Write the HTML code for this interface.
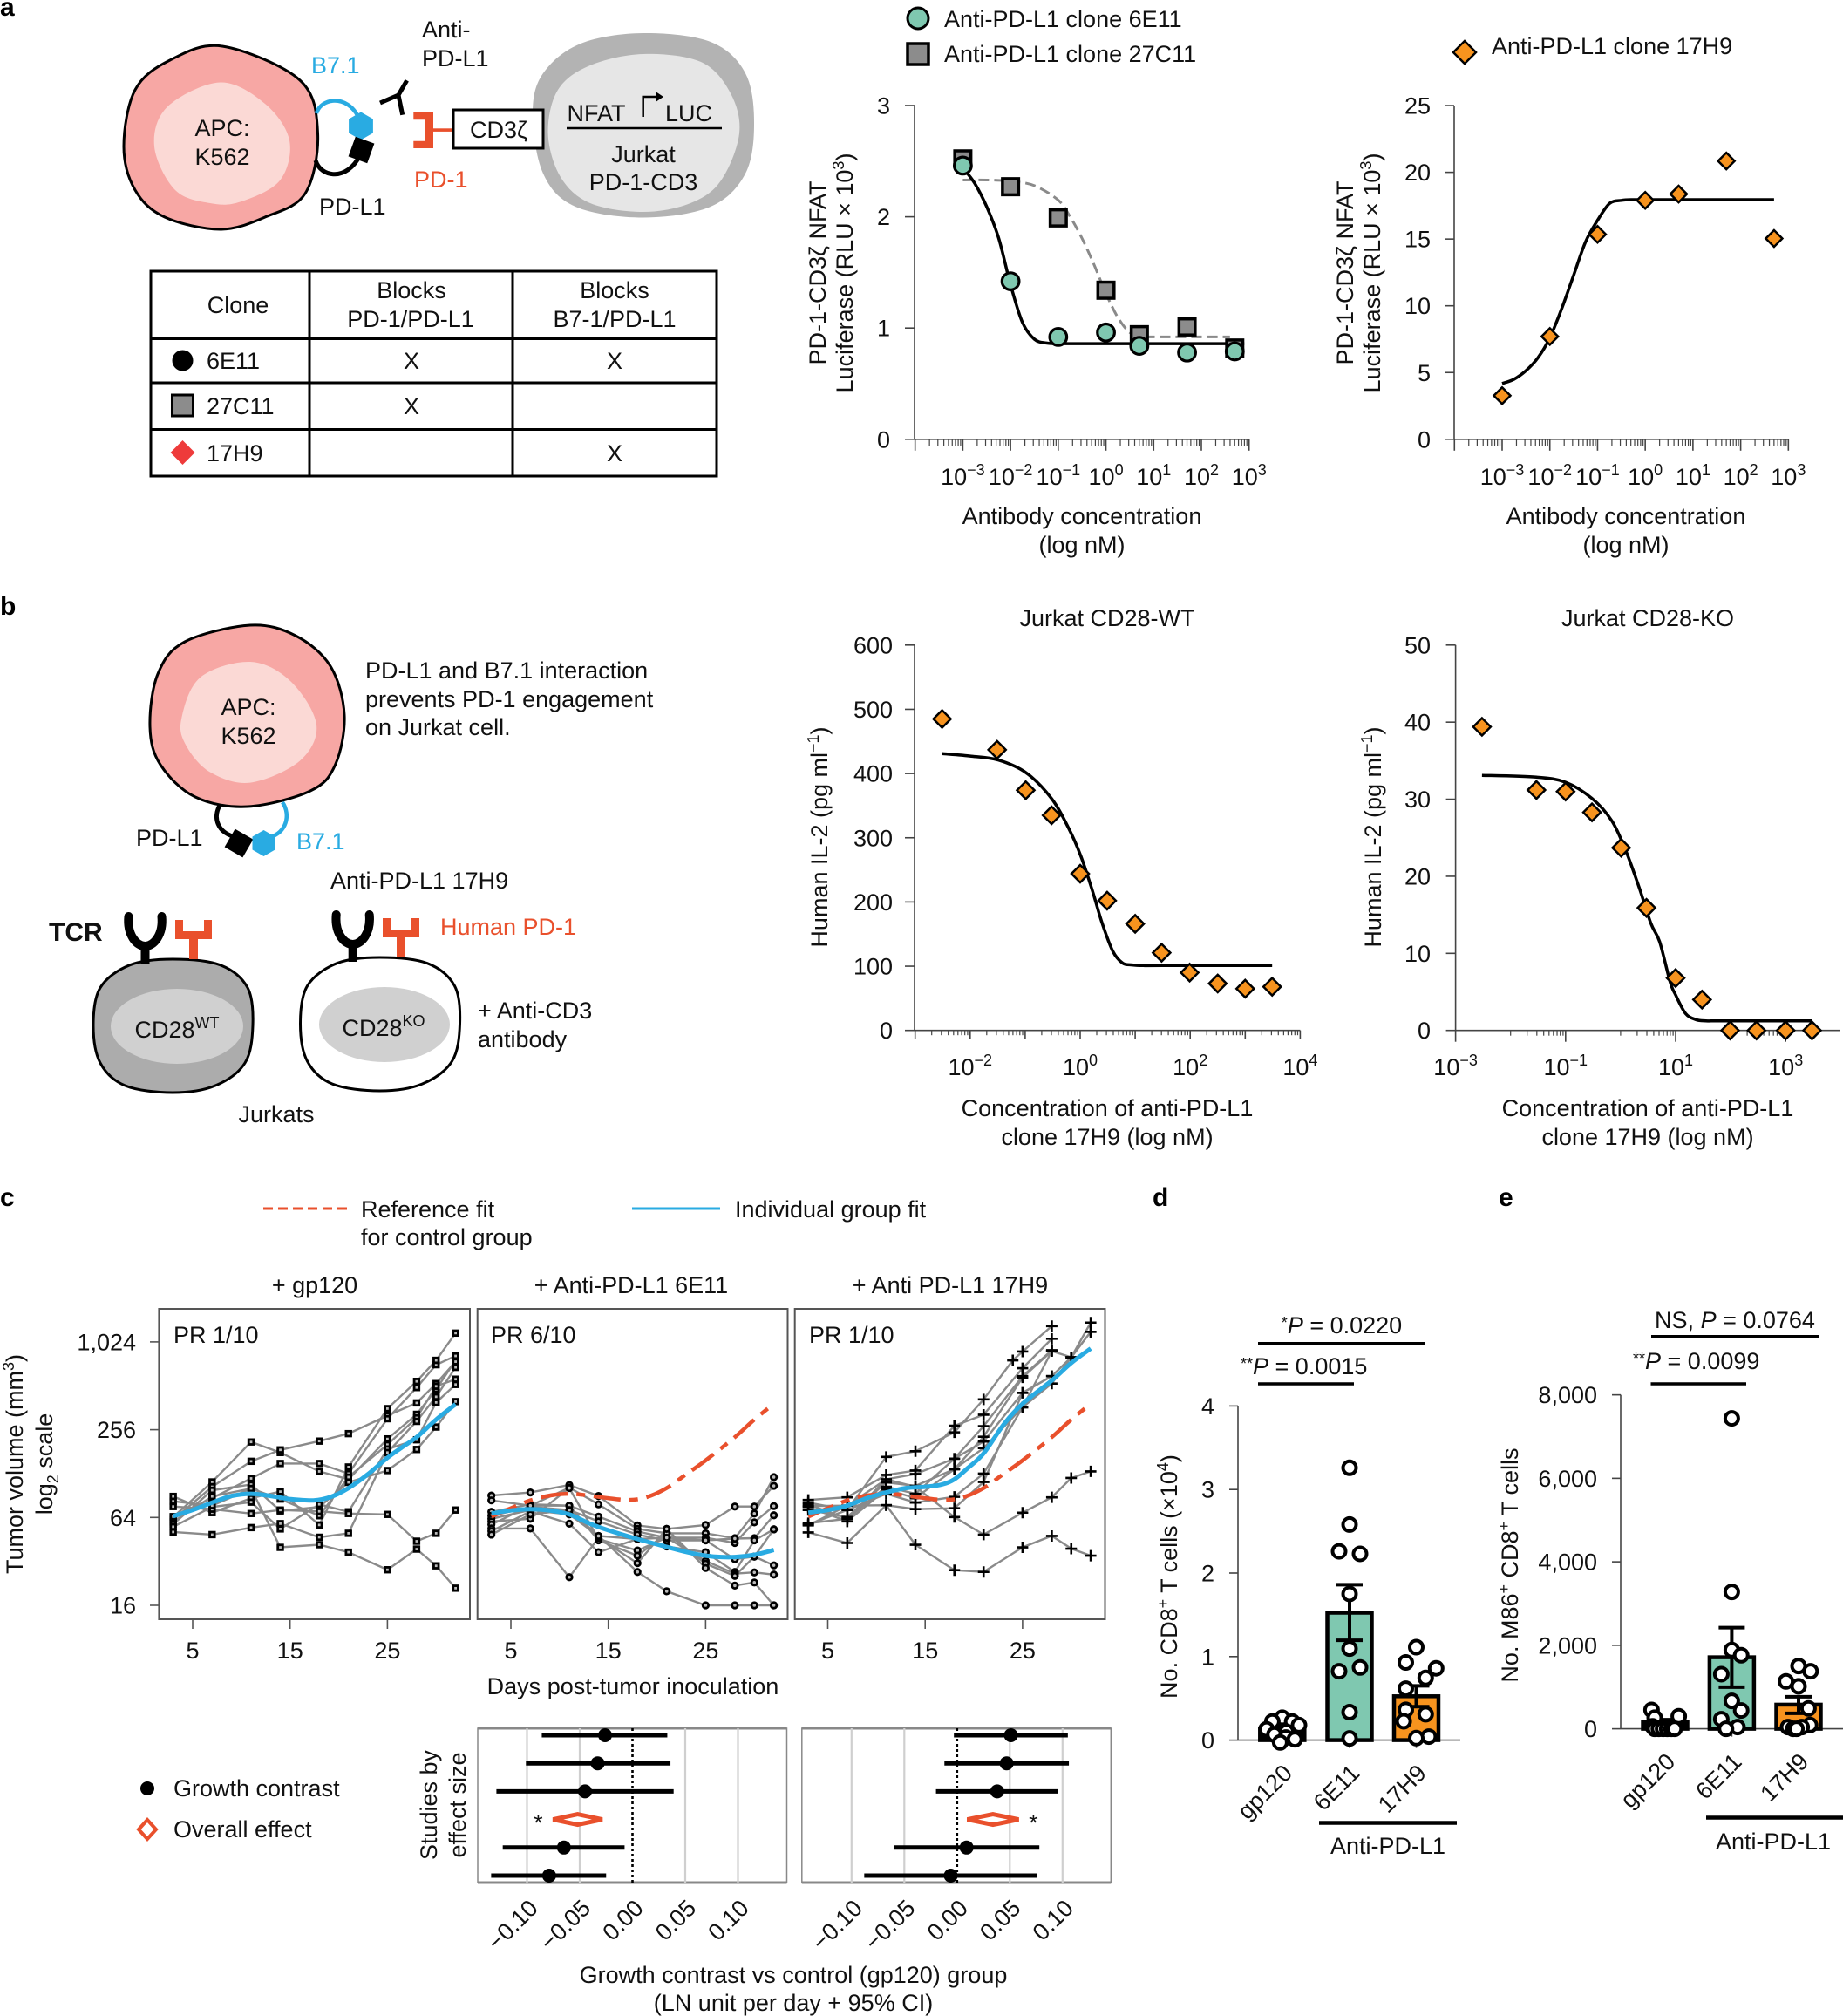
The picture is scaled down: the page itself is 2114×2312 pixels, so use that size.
<!DOCTYPE html>
<html lang="en">
<head>
<meta charset="utf-8">
<title>Anti-PD-L1 clone figure</title>
<style>
html,body{margin:0;padding:0;background:#fff;}
svg{display:block;}
text{font-family:"Liberation Sans",sans-serif;font-size:27px;fill:#111;}
.m{text-anchor:middle;}
.e{text-anchor:end;}
.red{fill:#e9502c;}
.blue{fill:#29abe2;}
.pl{font-weight:bold;font-size:30px;fill:#000;}
</style>
</head>
<body>
<svg id="fig" xmlns="http://www.w3.org/2000/svg" width="2114" height="2312" viewBox="0 0 2114 2312">
<rect width="2114" height="2312" fill="#fff"/>
<g id="shapes"></g>
<g id="charts"></g>

<text class="pl" x="0" y="18">a</text>
<text class="pl" x="0" y="705">b</text>
<text class="pl" x="0" y="1383">c</text>
<text class="pl" x="1322" y="1383">d</text>
<text class="pl" x="1719" y="1383">e</text>

<!-- Panel a schematic text -->
<text x="484" y="43">Anti-</text>
<text x="484" y="76">PD-L1</text>
<text class="blue" x="357" y="84">B7.1</text>
<text class="m" x="255" y="156">APC:</text>
<text class="m" x="255" y="189">K562</text>
<text x="366" y="246">PD-L1</text>
<text class="red" x="475" y="215">PD-1</text>
<text class="m" x="572" y="158">CD3ζ</text>
<text class="m" x="684" y="139">NFAT</text>
<text class="m" x="790" y="139">LUC</text>
<text class="m" x="738" y="186">Jurkat</text>
<text class="m" x="738" y="218">PD-1-CD3</text>

<!-- Table text -->
<text class="m" x="273" y="359">Clone</text>
<text class="m" x="472" y="342">Blocks</text>
<text class="m" x="471" y="375">PD-1/PD-L1</text>
<text class="m" x="705" y="342">Blocks</text>
<text class="m" x="705" y="375">B7-1/PD-L1</text>
<text x="237" y="423">6E11</text>
<text x="237" y="475">27C11</text>
<text x="237" y="529">17H9</text>
<text class="m" x="472" y="423">X</text>
<text class="m" x="705" y="423">X</text>
<text class="m" x="472" y="475">X</text>
<text class="m" x="705" y="529">X</text>

<!-- Panel a legends and titles -->
<text x="1083" y="31">Anti-PD-L1 clone 6E11</text>
<text x="1083" y="71">Anti-PD-L1 clone 27C11</text>
<text x="1711" y="62">Anti-PD-L1 clone 17H9</text>
<text class="m" transform="translate(947 313) rotate(-90)">PD-1-CD3ζ NFAT</text>
<text class="m" transform="translate(978 313) rotate(-90)">Luciferase (RLU × 10<tspan font-size="18" dy="-10">3</tspan><tspan dy="10">)</tspan></text>
<text class="m" transform="translate(1552 313) rotate(-90)">PD-1-CD3ζ NFAT</text>
<text class="m" transform="translate(1583 313) rotate(-90)">Luciferase (RLU × 10<tspan font-size="18" dy="-10">3</tspan><tspan dy="10">)</tspan></text>
<text class="m" x="1241" y="601">Antibody concentration</text>
<text class="m" x="1241" y="634">(log nM)</text>
<text class="m" x="1865" y="601">Antibody concentration</text>
<text class="m" x="1865" y="634">(log nM)</text>

<!-- Panel b schematic text -->
<text class="m" x="285" y="820">APC:</text>
<text class="m" x="285" y="853">K562</text>
<text x="419" y="778">PD-L1 and B7.1 interaction</text>
<text x="419" y="811">prevents PD-1 engagement</text>
<text x="419" y="843">on Jurkat cell.</text>
<text x="156" y="970">PD-L1</text>
<text class="blue" x="340" y="974">B7.1</text>
<text x="379" y="1019">Anti-PD-L1 17H9</text>
<text x="56" y="1079" font-weight="bold" style="font-size:30px">TCR</text>
<text class="red" x="505" y="1072">Human PD-1</text>
<text class="m" x="203" y="1190">CD28<tspan font-size="18" dy="-11">WT</tspan></text>
<text class="m" x="440" y="1188">CD28<tspan font-size="18" dy="-11">KO</tspan></text>
<text x="548" y="1168">+ Anti-CD3</text>
<text x="548" y="1201">antibody</text>
<text class="m" x="317" y="1287">Jurkats</text>

<!-- Panel b chart titles -->
<text class="m" x="1270" y="718">Jurkat CD28-WT</text>
<text class="m" x="1890" y="718">Jurkat CD28-KO</text>
<text class="m" transform="translate(949 960) rotate(-90)">Human IL-2 (pg ml<tspan font-size="18" dy="-10">−1</tspan><tspan dy="10">)</tspan></text>
<text class="m" transform="translate(1584 960) rotate(-90)">Human IL-2 (pg ml<tspan font-size="18" dy="-10">−1</tspan><tspan dy="10">)</tspan></text>
<text class="m" x="1270" y="1280">Concentration of anti-PD-L1</text>
<text class="m" x="1270" y="1313">clone 17H9 (log nM)</text>
<text class="m" x="1890" y="1280">Concentration of anti-PD-L1</text>
<text class="m" x="1890" y="1313">clone 17H9 (log nM)</text>

<!-- Panel c text -->
<text x="414" y="1396">Reference fit</text>
<text x="414" y="1428">for control group</text>
<text x="843" y="1396">Individual group fit</text>
<text class="m" x="361" y="1483">+ gp120</text>
<text class="m" x="724" y="1483">+ Anti-PD-L1 6E11</text>
<text class="m" x="1090" y="1483">+ Anti PD-L1 17H9</text>
<text x="199" y="1540">PR 1/10</text>
<text x="563" y="1540">PR 6/10</text>
<text x="928" y="1540">PR 1/10</text>
<text class="m" x="726" y="1943">Days post-tumor inoculation</text>
<text class="m" transform="translate(26 1679) rotate(-90)">Tumor volume (mm<tspan font-size="18" dy="-10">3</tspan><tspan dy="10">)</tspan></text>
<text class="m" transform="translate(60 1679) rotate(-90)">log<tspan font-size="18" dy="7">2</tspan><tspan dy="-7"> scale</tspan></text>

<!-- Forest text -->
<text x="199" y="2060">Growth contrast</text>
<text x="199" y="2107">Overall effect</text>
<text class="m" transform="translate(501 2070) rotate(-90)">Studies by</text>
<text class="m" transform="translate(534 2070) rotate(-90)">effect size</text>
<text class="m" x="910" y="2274">Growth contrast vs control (gp120) group</text>
<text class="m" x="910" y="2306">(LN unit per day + 95% CI)</text>

<!-- Panels d and e text -->
<text class="m" x="1539" y="1529"><tspan font-size="18" dy="-6">*</tspan><tspan font-style="italic" dy="6">P</tspan> = 0.0220</text>
<text x="1423" y="1576"><tspan font-size="18" dy="-6">**</tspan><tspan font-style="italic" dy="6">P</tspan> = 0.0015</text>
<text class="m" x="1990" y="1523">NS, <tspan font-style="italic">P</tspan> = 0.0764</text>
<text x="1873" y="1570"><tspan font-size="18" dy="-6">**</tspan><tspan font-style="italic" dy="6">P</tspan> = 0.0099</text>
<text class="m" transform="translate(1350 1808) rotate(-90)">No. CD8<tspan font-size="18" dy="-10">+</tspan><tspan dy="10"> T cells (×10</tspan><tspan font-size="18" dy="-10">4</tspan><tspan dy="10">)</tspan></text>
<text class="m" transform="translate(1741 1795) rotate(-90)">No. M86<tspan font-size="18" dy="-10">+</tspan><tspan dy="10"> CD8</tspan><tspan font-size="18" dy="-10">+</tspan><tspan dy="10"> T cells</tspan></text>
<text class="m" x="1592" y="2126">Anti-PD-L1</text>
<text class="m" x="2034" y="2121">Anti-PD-L1</text>
</svg>

<script>
/* ---------- Panel a data: log10 antibody nM, RLU x 10^3 ---------- */
const aConcLog = [-3, -2, -1, 0, 0.7, 1.7, 2.7];
const a1Values6E11 = [2.46, 1.42, 0.92, 0.96, 0.84, 0.78, 0.79];
const a1Values27C11 = [2.52, 2.27, 1.99, 1.34, 0.94, 1.01, 0.82];
const a1Fit6E11Log = [-3, -2.75, -2.5, -2.25, -2, -1.75, -1.5, -1.25, -1, -0.75, -0.5, 0, 1, 2, 2.9];
const a1Fit6E11 = [2.44, 2.30, 2.09, 1.81, 1.39, 1.05, 0.90, 0.865, 0.86, 0.86, 0.86, 0.86, 0.86, 0.86, 0.86];
const a1Fit27C11Log = [-3, -2.5, -2, -1.5, -1, -0.75, -0.5, -0.25, 0, 0.25, 0.5, 0.75, 1, 1.25, 1.5, 2.6];
const a1Fit27C11 = [2.33, 2.33, 2.32, 2.28, 2.15, 2.0, 1.805, 1.57, 1.31, 1.095, 0.96, 0.924, 0.92, 0.92, 0.92, 0.92];
const a2Values17H9 = [3.27, 7.7, 15.35, 17.9, 18.37, 20.85, 15.04];
const a2FitLog = [-3, -2.75, -2.5, -2.25, -2, -1.75, -1.5, -1.25, -1, -0.75, -0.5, -0.25, 0, 1, 2.7];
const a2Fit = [4.18, 4.5, 5.14, 6.1, 7.6, 9.8, 12.3, 14.8, 16.4, 17.66, 17.9, 17.95, 17.95, 17.95, 17.95];
const a1YTicks = [0, 1, 2, 3];
const a2YTicks = [0, 5, 10, 15, 20, 25];
const aXTickExps = [-3, -2, -1, 0, 1, 2, 3];

/* ---------- Panel b data: log10 nM, pg/ml ---------- */
const b1ConcLog = [-2.51, -1.51, -0.99, -0.52, 0, 0.49, 1.0, 1.48, 1.99, 2.5, 3, 3.49];
const b1Values = [485, 437, 374, 335, 244, 202, 166, 121, 90, 73, 65, 68];
const b1FitLog = [-2.51, -1.98, -1.49, -0.98, -0.52, -0.21, 0.01, 0.22, 0.40, 0.59, 0.77, 0.95, 1.15, 1.5, 3.49];
const b1Fit = [431, 427, 421, 401, 361, 315, 272, 218, 167, 124, 105, 102, 101, 101, 101];
const b2ConcLog = [-2.52, -1.53, -1.0, -0.52, 0.01, 0.47, 1.0, 1.48, 1.99, 2.47, 3, 3.48];
const b2Values = [39.4, 31.2, 31, 28.3, 23.7, 15.9, 6.8, 4, 0, 0, 0, 0];
const b2FitLog = [-2.52, -1.53, -1.0, -0.52, -0.16, 0.09, 0.33, 0.55, 0.71, 0.9, 1.0, 1.18, 1.37, 1.55, 1.9, 3.48];
const b2Fit = [33.1, 32.86, 32.2, 30.1, 27.2, 23.4, 18.7, 13.9, 11.5, 6.3, 4.6, 2.2, 1.4, 1.24, 1.24, 1.24];
const b1YTicks = [0, 100, 200, 300, 400, 500, 600];
const b2YTicks = [0, 10, 20, 30, 40, 50];
const b1XTickExps = [-2, 0, 2, 4];
const b2XTickExps = [-3, -1, 1, 3];

/* ---------- Panel c data: log2 tumor volume by day ---------- */
const cDays = [3, 7, 11, 14, 18, 21, 25, 28, 30, 32];
const gp120Tumors = [
  [6.01, 6.81, 7.72, 7.48, 7.05, 6.87, 7.79, 8.35, 8.92, 9.58],
  [5.95, 6.70, 7.28, 7.54, 7.74, 7.91, 8.32, 8.61, 9.05, 9.55],
  [6.02, 6.44, 6.89, 7.23, 7.23, 7.00, 8.25, 8.96, 9.48, 9.68],
  [6.48, 6.11, 6.44, 6.59, 5.83, 7.15, 8.48, 9.10, 9.58, 10.20],
  [5.90, 6.48, 6.66, 6.42, 6.04, 6.92, 7.66, 8.27, 8.99, 9.15],
  [5.85, 6.62, 6.75, 6.15, 6.24, 6.80, 7.07, 7.55, 8.06, 8.64],
  [5.79, 6.24, 6.35, 5.74, 6.30, 6.13, 7.56, 7.77, 8.62, 9.03],
  [5.67, 5.61, 5.77, 5.86, 5.55, 5.64, 7.48, 8.19, 8.75, 9.42],
  [6.25, 6.19, 6.09, 6.17, 6.14, 6.09, 6.07, 5.46, 5.64, 6.17],
  [6.37, 6.27, 6.66, 5.32, 5.38, 5.21, 4.81, 5.28, 4.90, 4.39]
];
const clone6E11Tumors = [
  [6.50, 6.57, 6.74, 6.49, 5.82, 5.74, 5.83, 6.25, 6.25, 6.72],
  [6.39, 6.27, 6.68, 6.30, 5.74, 5.64, 5.64, 5.53, 6.09, 6.92],
  [6.13, 6.30, 6.27, 6.02, 5.68, 5.54, 5.54, 5.42, 5.89, 6.26],
  [6.04, 6.24, 6.17, 5.91, 5.61, 5.48, 5.48, 5.52, 5.53, 6.05],
  [5.97, 6.17, 6.07, 5.58, 5.51, 5.34, 5.21, 4.76, 5.48, 5.73],
  [5.91, 5.97, 6.67, 5.51, 5.25, 5.54, 5.01, 4.72, 4.75, 4.70],
  [5.84, 6.27, 6.27, 5.48, 5.13, 5.64, 4.95, 4.67, 5.11, 4.91],
  [5.75, 5.75, 4.64, 5.54, 4.96, 5.74, 4.85, 4.45, 4.52, 4.00],
  [5.69, 6.14, 5.86, 5.21, 5.51, 5.54, 5.48, 5.05, 5.11, 5.73],
  [5.61, 6.07, 6.17, 5.58, 4.76, 4.32, 4.00, 4.00, 4.00, 4.00]
];
const c3Days = [3, 7, 11, 14, 18, 21, 24, 25, 28, 30, 32];
const clone17H9Tumors = [
  [6.34, 6.17, 7.38, 7.51, 7.94, 8.69, 9.58, 9.78, 10.36, null, null],
  [6.40, 6.46, 6.97, 7.07, 8.09, 8.34, null, 9.40, 10.07, null, null],
  [6.26, 6.27, 6.87, 6.99, 7.34, 8.08, null, 9.22, 9.81, null, null],
  [6.17, 6.01, 6.80, 6.72, 7.10, 7.84, null, 9.19, 9.79, 9.65, 10.23],
  [5.87, 5.97, 6.70, 6.54, 7.34, 7.73, null, 8.84, 9.22, 9.65, 10.44],
  [6.24, 5.91, 6.64, 6.44, 7.10, 7.58, null, 8.51, 9.05, 9.65, 10.23],
  [5.84, 6.17, 6.54, 6.34, 6.47, 7.00, null, 8.51, 9.79, null, null],
  [5.82, 6.27, 6.28, 6.19, 6.21, 6.81, null, 8.84, 9.22, null, null],
  [6.30, 5.97, 6.87, 6.70, 6.01, 5.61, null, 6.11, 6.46, 6.90, 7.05],
  [5.66, 5.42, 6.28, 5.38, 4.80, 4.76, null, 5.32, 5.58, 5.29, 5.13]
];
const c1FitDays = [3, 5, 7, 9, 11, 13, 15, 17.4, 19.2, 21, 22.9, 25, 26.5, 28, 30, 32];
const c1Fit = [6.03, 6.17, 6.34, 6.49, 6.54, 6.49, 6.42, 6.39, 6.47, 6.67, 6.97, 7.36, 7.60, 7.83, 8.23, 8.58];
const c2FitDays = [3, 5, 7, 9, 11, 13, 15, 18, 21, 23.1, 25, 26.6, 28, 30, 32];
const c2Fit = [6.09, 6.16, 6.19, 6.16, 6.07, 5.87, 5.71, 5.51, 5.33, 5.21, 5.13, 5.10, 5.10, 5.15, 5.26];
const c3FitDays = [3, 5, 7, 9, 11, 13, 15, 16.7, 18, 19.4, 21, 23.1, 25, 28, 30, 32];
const c3Fit = [6.11, 6.17, 6.27, 6.44, 6.57, 6.67, 6.70, 6.75, 6.87, 7.13, 7.46, 8.13, 8.59, 9.12, 9.52, 9.85];
const refFitDays = [3, 5, 7, 9, 11, 13, 15, 17.1, 18.9, 21, 23.1, 25, 28, 30, 32];
const refFit = [6.02, 6.21, 6.39, 6.50, 6.54, 6.50, 6.44, 6.40, 6.46, 6.67, 7.0, 7.30, 7.83, 8.23, 8.59];
const cYTicks = [4, 6, 8, 10];
const cYLabels = ['16', '64', '256', '1,024'];
const cXTicks = [5, 15, 25];

/* ---------- Forest plot data ---------- */
const forestTicks = [-0.10, -0.05, 0, 0.05, 0.10];
const forestTickLabels = ['−0.10', '−0.05', '0.00', '0.05', '0.10'];
const forestRowOrder = [0, 1, 2, 4, 5];
const forest6E11Mean = [-0.026, -0.033, -0.045, -0.065, -0.079];
const forest6E11Low = [-0.086, -0.101, -0.129, -0.123, -0.134];
const forest6E11High = [0.033, 0.036, 0.039, -0.0075, -0.025];
const forest6E11Overall = [-0.077, -0.052, -0.027];
const forest17H9Mean = [0.051, 0.047, 0.038, 0.009, -0.006];
const forest17H9Low = [-0.003, -0.012, -0.020, -0.060, -0.088];
const forest17H9High = [0.105, 0.106, 0.096, 0.078, 0.076];
const forest17H9Overall = [0.008, 0.034, 0.060];

/* ---------- Panels d, e data (jitter = dimensionless swarm column) ---------- */
const barCategories = ['gp120', '6E11', '17H9'];
const dMeans = [0.14, 1.525, 0.525];
const dErrLow = [0.11, 1.195, 0.40];
const dErrHigh = [0.17, 1.86, 0.65];
const dPointsGp120 = [0.268, 0.223, 0.223, 0.18, 0.13, 0.10, 0.066, 0.031, 0.01, -0.028];
const dJitterGp120 = [0, -0.95, 0.95, 1.6, -1.5, 0.4, -0.75, 0.35, 1.2, -0.2];
const dPoints6E11 = [3.26, 2.58, 2.26, 2.23, 1.75, 1.096, 0.87, 0.825, 0.335, 0.02];
const dJitter6E11 = [0, 0, -1, 1, 0, 0, 1, -1, 0, 0];
const dPoints17H9 = [1.113, 0.93, 0.86, 0.745, 0.616, 0.362, 0.31, 0.226, 0.042, 0.024];
const dJitter17H9 = [0, -1, 1.9, 0.9, -1, -1, 0.9, -1.2, 1.2, 0];
const dYTicks = [0, 1, 2, 3, 4];
const eMeans = [160, 1713, 578];
const eErrLow = [100, 996, 369];
const eErrHigh = [220, 2423, 766];
const ePointsGp120 = [452, 300, 265, 60, 0, 0, 0, 0, 0, 0];
const eJitterGp120 = [-1.3, 1.3, -1, -1.2, -1, -0.6, -0.2, 0.2, 0.6, 0.9];
const ePoints6E11 = [7437, 3279, 1887, 1762, 1309, 668, 439, 230, 42, 0];
const eJitter6E11 = [0, 0, 0, 0.9, -1, 0, 0.9, -1, 0.55, -0.55];
const ePoints17H9 = [1504, 1379, 1135, 1017, 487, 90, 40, 40, 0, 0];
const eJitter17H9 = [0, 1.15, -1.2, 0, 0.95, 1.1, -1, 0.3, -0.5, -0.2];
const eYTicks = [0, 2000, 4000, 6000, 8000];
const eYLabels = ['0', '2,000', '4,000', '6,000', '8,000'];

/* ---------- Helpers ---------- */
const svgNS = document.getElementById('fig').namespaceURI;
const shapes = document.getElementById('shapes');
const charts = document.getElementById('charts');
const TEAL = '#7fc8b0', GRAY = '#8c8c8c', ORANGE = '#f7931e', RED = '#e9502c', BLUE = '#29abe2';

function mk(tag, parent, attrs, name) {
  const e = document.createElementNS(svgNS, tag);
  for (const k in attrs) e.setAttribute(k, attrs[k]);
  
  
  parent.appendChild(e);
  return e;
}
function smooth(pts) {
  let d = 'M' + pts[0][0].toFixed(1) + ' ' + pts[0][1].toFixed(1);
  for (let i = 0; i < pts.length - 1; i++) {
    const p0 = pts[Math.max(0, i - 1)], p1 = pts[i], p2 = pts[i + 1], p3 = pts[Math.min(pts.length - 1, i + 2)];
    const c1x = p1[0] + (p2[0] - p0[0]) / 6, c1y = p1[1] + (p2[1] - p0[1]) / 6;
    const c2x = p2[0] - (p3[0] - p1[0]) / 6, c2y = p2[1] - (p3[1] - p1[1]) / 6;
    d += 'C' + c1x.toFixed(1) + ' ' + c1y.toFixed(1) + ' ' + c2x.toFixed(1) + ' ' + c2y.toFixed(1) + ' ' + p2[0].toFixed(1) + ' ' + p2[1].toFixed(1);
  }
  return d;
}
function blobPath(pts, dx, dy) {
  const n = pts.length, P = i => [pts[(i + n) % n][0] + (dx || 0), pts[(i + n) % n][1] + (dy || 0)];
  let d = 'M' + P(0).join(' ');
  for (let i = 0; i < n; i++) {
    const p0 = P(i - 1), p1 = P(i), p2 = P(i + 1), p3 = P(i + 2);
    d += 'C' + (p1[0] + (p2[0] - p0[0]) / 6).toFixed(1) + ' ' + (p1[1] + (p2[1] - p0[1]) / 6).toFixed(1) + ' ' +
      (p2[0] - (p3[0] - p1[0]) / 6).toFixed(1) + ' ' + (p2[1] - (p3[1] - p1[1]) / 6).toFixed(1) + ' ' + p2[0] + ' ' + p2[1];
  }
  return d + 'Z';
}
function hexPoints(cx, cy, r) {
  const out = [];
  for (let i = 0; i < 6; i++) {
    const a = Math.PI / 6 + i * Math.PI / 3;
    out.push((cx + r * Math.cos(a)).toFixed(1) + ',' + (cy + r * Math.sin(a)).toFixed(1));
  }
  return out.join(' ');
}
function diamond(parent, x, y, r, fill, sw, name, stroke, ry) {
  const h = ry || r;
  return mk('polygon', parent, {
    points: x + ',' + (y - h) + ' ' + (x + r) + ',' + y + ' ' + x + ',' + (y + h) + ' ' + (x - r) + ',' + y,
    fill: fill, stroke: stroke || '#000', 'stroke-width': sw, 'stroke-linejoin': 'miter'
  }, name);
}
function square(parent, x, y, s, fill, sw, name) {
  return mk('rect', parent, { x: x - s / 2, y: y - s / 2, width: s, height: s, fill: fill, stroke: '#000', 'stroke-width': sw }, name);
}
function circle(parent, x, y, r, fill, sw, name) {
  return mk('circle', parent, { cx: x, cy: y, r: r, fill: fill, stroke: '#000', 'stroke-width': sw }, name);
}
function line(parent, x1, y1, x2, y2, stroke, sw, name, extra) {
  const a = { x1: x1, y1: y1, x2: x2, y2: y2, stroke: stroke, 'stroke-width': sw };
  if (extra) for (const k in extra) a[k] = extra[k];
  return mk('line', parent, a, name);
}
function label(parent, x, y, str, anchor, name, transform) {
  const a = { x: x, y: y, 'text-anchor': anchor };
  if (transform) a.transform = transform;
  const e = mk('text', parent, a, name);
  e.textContent = str;
  return e;
}
function powerLabel(parent, x, y, exp, name) {
  const e = mk('text', parent, { x: x, y: y, 'text-anchor': 'middle' }, name);
  e.appendChild(document.createTextNode('10'));
  const s = document.createElementNS(svgNS, 'tspan');
  s.setAttribute('font-size', '18');
  s.setAttribute('dy', '-11');
  s.textContent = String(exp).replace('-', '−');
  e.appendChild(s);
}
const AXIS = '#444';
function yAxis(g, x, yFn, ticks, labels, labelX, len) {
  line(g, x, yFn(ticks[ticks.length - 1]), x, yFn(ticks[0]), AXIS, 1.6, 'y-axis-line');
  ticks.forEach((v, i) => {
    line(g, x - len, yFn(v), x, yFn(v), AXIS, 1.6, 'y-tick');
    label(g, labelX, yFn(v) + 9.5, labels ? labels[i] : String(v), 'end', 'y-tick-label');
  });
}
function logXAxis(g, xFn, y0, lo, hi, majorsExp, minorLogs, majLen, minLen, labelExps, labelY, endX) {
  line(g, xFn(lo), y0, endX || xFn(hi), y0, AXIS, 1.6, 'x-axis-line');
  majorsExp.forEach(m => line(g, xFn(m), y0, xFn(m), y0 + majLen, AXIS, 1.6, 'x-major-tick'));
  minorLogs.forEach(m => line(g, xFn(m), y0, xFn(m), y0 + minLen, AXIS, 1.2, 'x-minor-tick'));
  labelExps.forEach(e => powerLabel(g, xFn(e), labelY, e, 'x-tick-label'));
}
function decadeMinors(lo, hi) {
  const out = [];
  for (let d = lo; d < hi; d++) for (let k = 2; k < 10; k++) out.push(d + Math.log10(k));
  return out;
}
function fitCurve(g, xFn, yFn, logs, vals, stroke, sw, name, dash) {
  const a = { d: smooth(logs.map((l, i) => [xFn(l), yFn(vals[i])])), fill: 'none', stroke: stroke, 'stroke-width': sw };
  if (dash) a['stroke-dasharray'] = dash;
  return mk('path', g, a, name);
}

/* ---------- Schematic shapes ---------- */
(function () {
  const s = shapes;
  const apcOuterA = [[255,53],[344,92],[364.5,153],[350,222],[304,249],[252.6,263],[189,249],[155,218],[142,168],[155,103],[195,69]];
  const apcInnerA = [[252.6,94.5],[304,119],[332,161],[321,207],[275.5,231.5],[241,233],[201,218],[177,168],[192,122.5]];
  mk('path', s, { d: blobPath(apcOuterA), fill: '#f7a7a4', stroke: '#000', 'stroke-width': 3 }, 'apc-cell-a');
  mk('path', s, { d: blobPath(apcInnerA), fill: '#fbd9d5' }, 'apc-nucleus-a');
  mk('path', s, { d: 'M363 130C368 112 398 108 411 134', fill: 'none', stroke: BLUE, 'stroke-width': 4.5 }, 'b7-1-stalk');
  mk('path', s, { d: 'M362 184C368 204 398 208 413 178', fill: 'none', stroke: '#000', 'stroke-width': 5 }, 'pd-l1-stalk');
  mk('polygon', s, { points: hexPoints(414, 144.5, 16), fill: BLUE }, 'b7-1-hexagon');
  mk('rect', s, { x: 403, y: 160, width: 23, height: 24, fill: '#000', transform: 'rotate(20 414.5 172)' }, 'pd-l1-square');
  mk('path', s, { d: 'M466.7 92.3L457 109L436 118M457 109L461.7 131.7', fill: 'none', stroke: '#000', 'stroke-width': 5 }, 'anti-pd-l1-antibody');
  mk('path', s, { d: 'M474.3 129H497V170H474.3V161.7H487.3V137.3H474.3Z', fill: RED }, 'pd-1-receptor');
  mk('rect', s, { x: 497, y: 147.3, width: 23, height: 3.6, fill: RED }, 'pd-1-stem');
  const jOuter = [[737.7,38],[815,48],[855,84],[865,141.6],[855,199],[815,237],[737.7,249.5],[660,237],[623,199],[611,130],[623,84],[666,50]];
  const jInner = [[737.7,62],[804,71],[838,107],[848,153],[827,207],[792,233],[737.7,243],[677,233],[643,203],[628.6,153],[640,103],[677,75]];
  mk('path', s, { d: blobPath(jOuter), fill: '#b3b3b3' }, 'jurkat-cell');
  mk('path', s, { d: blobPath(jInner), fill: '#e6e6e6' }, 'jurkat-nucleus');
  mk('rect', s, { x: 520, y: 126, width: 103, height: 44, fill: '#fff', stroke: '#000', 'stroke-width': 3 }, 'cd3z-box');
  line(s, 650, 147, 828, 147, '#000', 2.5, 'nfat-luc-line');
  mk('path', s, { d: 'M737.7 134V111H754', fill: 'none', stroke: '#000', 'stroke-width': 2.5 }, 'promoter-arrow');
  mk('polygon', s, { points: '752,105 761,111 752,117', fill: '#000' }, 'promoter-arrow-head');

  /* table */
  mk('rect', s, { x: 173, y: 311, width: 649, height: 235, fill: '#fff', stroke: '#000', 'stroke-width': 3 }, 'clone-table');
  line(s, 355, 311, 355, 546, '#000', 3, 'table-col-line');
  line(s, 588, 311, 588, 546, '#000', 3, 'table-col-line');
  line(s, 173, 388.5, 822, 388.5, '#000', 3, 'table-row-line');
  line(s, 173, 439, 822, 439, '#000', 3, 'table-row-line');
  line(s, 173, 492.5, 822, 492.5, '#000', 3, 'table-row-line');
  mk('ellipse', s, { cx: 209.5, cy: 413.5, rx: 12, ry: 12, fill: '#000' }, 'table-symbol-6e11');
  square(s, 209.5, 465, 24, GRAY, 3, 'table-symbol-27c11');
  diamond(s, 209.5, 519, 14, '#ee3b3b', 0, 'table-symbol-17h9', 'none');

  /* legends for panel a */
  circle(s, 1053, 21, 12, TEAL, 3, 'legend-marker-6e11');
  square(s, 1053, 62, 24, GRAY, 3.5, 'legend-marker-27c11');
  diamond(s, 1680, 60, 13, ORANGE, 2.5, 'legend-marker-17h9');

  /* panel b schematic */
  const apcOuterB = [[287,717],[339,729],[379,764],[395,820],[384.6,877],[356,907],[284,925],[224,914],[184,877],[172,833.5],[181,773],[212,736]];
  const apcInnerB = [[287,759],[333,781],[363,831],[344,872.5],[287,897.6],[241,885.5],[213.5,855],[208,825],[229.6,777]];
  mk('path', s, { d: 'M253 922C243 938 250 955 270 960', fill: 'none', stroke: '#000', 'stroke-width': 5 }, 'b-pd-l1-stalk');
  mk('path', s, { d: 'M324 920C334 935 328 955 310 960', fill: 'none', stroke: BLUE, 'stroke-width': 4.5 }, 'b-b7-1-stalk');
  mk('path', s, { d: blobPath(apcOuterB), fill: '#f7a7a4', stroke: '#000', 'stroke-width': 3 }, 'apc-cell-b');
  mk('path', s, { d: blobPath(apcInnerB), fill: '#fbd9d5' }, 'apc-nucleus-b');
  mk('rect', s, { x: 262, y: 955, width: 24, height: 24, fill: '#000', transform: 'rotate(30 274 967)' }, 'b-pd-l1-square');
  mk('polygon', s, { points: hexPoints(302.5, 967, 15), fill: BLUE }, 'b-b7-1-hexagon');
  const cell = [[198,1100],[252.6,1106.7],[284,1132.7],[290,1176],[281,1219],[247,1245],[198,1253],[143.5,1245],[115,1219],[107,1176],[115,1132.7],[149,1106.7]];
  mk('path', s, { d: blobPath(cell), fill: '#acacac', stroke: '#000', 'stroke-width': 3 }, 'jurkat-cd28-wt-cell');
  mk('path', s, { d: blobPath(cell, 237.5, -2), fill: '#fff', stroke: '#000', 'stroke-width': 3 }, 'jurkat-cd28-ko-cell');
  mk('ellipse', s, { cx: 203, cy: 1177, rx: 76, ry: 43, fill: '#d0d0d0' }, 'cd28-wt-nucleus');
  mk('ellipse', s, { cx: 441, cy: 1175, rx: 75, ry: 43, fill: '#d0d0d0' }, 'cd28-ko-nucleus');
  [[166.5, 1050], [404.7, 1048]].forEach(p => {
    const x = p[0], y = p[1];
    mk('path', s, { d: 'M' + (x - 19) + ' ' + (y + 1) + 'C' + (x - 21) + ' ' + (y + 22) + ' ' + (x - 10) + ' ' + (y + 35) + ' ' + x + ' ' + (y + 35) + 'C' + (x + 10) + ' ' + (y + 35) + ' ' + (x + 21) + ' ' + (y + 22) + ' ' + (x + 19) + ' ' + (y + 1), fill: 'none', stroke: '#000', 'stroke-width': 10, 'stroke-linecap': 'round' }, 'tcr-receptor');
    mk('rect', s, { x: x - 5, y: y + 33, width: 10, height: 22, fill: '#000' }, 'tcr-stem');
  });
  [[222, 1055], [460, 1053]].forEach(p => {
    const x = p[0], y = p[1];
    mk('path', s, { d: 'M' + (x - 21) + ' ' + y + 'h9v13h24v-13h9v22h-16v23h-10v-23h-16z', fill: RED }, 'human-pd-1-receptor');
  });

  /* c legend */
  line(s, 302, 1386, 401, 1386, RED, 3, 'legend-reference-line', { 'stroke-dasharray': '11 6' });
  line(s, 725, 1386, 826, 1386, BLUE, 3, 'legend-individual-line');

  /* forest legend */
  mk('ellipse', s, { cx: 169, cy: 2051, rx: 8, ry: 8, fill: '#000' }, 'legend-marker-growth-contrast');
  diamond(s, 169, 2098, 10, '#fff', 4, 'legend-marker-overall-effect', RED, 11);
})();

/* ---------- Panel a charts ---------- */
(function () {
  const g1 = mk('g', charts, {}, 'chart-a-6e11-27c11');
  const x1 = l => 1104.4 + (l + 3) * 54.72;
  const y1 = v => 503.8 - v * 127.6;
  yAxis(g1, 1049, y1, a1YTicks, null, 1021, 11);
  logXAxis(g1, x1, 503.8, -4, 3, [-4, -3, -2, -1, 0, 1, 2, 3], decadeMinors(-4, 3), 13, 7.5, aXTickExps, 556);
  fitCurve(g1, x1, y1, a1Fit27C11Log, a1Fit27C11, '#8a8a8a', 3, 'fit-curve-27c11', '12 6');
  fitCurve(g1, x1, y1, a1Fit6E11Log, a1Fit6E11, '#000', 3.5, 'fit-curve-6e11');
  aConcLog.forEach((l, i) => square(g1, x1(l), y1(a1Values27C11[i]), 18.5, GRAY, 3.5, 'point-27c11'));
  aConcLog.forEach((l, i) => circle(g1, x1(l), y1(a1Values6E11[i]), 9.8, TEAL, 3.2, 'point-6e11'));

  const g2 = mk('g', charts, {}, 'chart-a-17h9');
  const x2 = l => 1723 + (l + 3) * 54.72;
  const y2 = v => 503.8 - v * 15.31;
  yAxis(g2, 1668, y2, a2YTicks, null, 1641, 11);
  logXAxis(g2, x2, 503.8, -4, 3, [-4, -3, -2, -1, 0, 1, 2, 3], decadeMinors(-4, 3), 13, 7.5, aXTickExps, 556);
  fitCurve(g2, x2, y2, a2FitLog, a2Fit, '#000', 3.5, 'fit-curve-17h9');
  aConcLog.forEach((l, i) => diamond(g2, x2(l), y2(a2Values17H9[i]), 9.5, ORANGE, 2.5, 'point-17h9'));
})();

/* ---------- Panel b charts ---------- */
(function () {
  const g1 = mk('g', charts, {}, 'chart-b-cd28-wt');
  const x1 = l => 1239 + l * 63.1;
  const y1 = v => 1181.7 - v * 0.7365;
  yAxis(g1, 1049, y1, b1YTicks, null, 1024, 11);
  logXAxis(g1, x1, 1181.7, -3, 4, [-3, -2, -1, 0, 1, 2, 3, 4], decadeMinors(-3, 4), 10, 5.5, b1XTickExps, 1233);
  fitCurve(g1, x1, y1, b1FitLog, b1Fit, '#000', 3.5, 'fit-curve-cd28-wt');
  b1ConcLog.forEach((l, i) => diamond(g1, x1(l), y1(b1Values[i]), 10, ORANGE, 2.5, 'point-cd28-wt'));

  const g2 = mk('g', charts, {}, 'chart-b-cd28-ko');
  const x2 = l => 1669.6 + (l + 3) * 63.1;
  const y2 = v => 1181.7 - v * 8.838;
  yAxis(g2, 1669.6, y2, b2YTicks, null, 1641, 11);
  const minors = [];
  [-2, 0, 2].forEach(d => { for (let k = 1; k < 10; k++) minors.push(d + Math.log10(k)); });
  logXAxis(g2, x2, 1181.7, -3, 4, [-3, -1, 1, 3], minors, 13, 6, b2XTickExps, 1233, 2111);
  fitCurve(g2, x2, y2, b2FitLog, b2Fit, '#000', 3.5, 'fit-curve-cd28-ko');
  b2ConcLog.forEach((l, i) => diamond(g2, x2(l), y2(b2Values[i]), 10, ORANGE, 2.5, 'point-cd28-ko'));
})();

/* ---------- Panel c charts ---------- */
function growthPanel(name, frameX, frameW, day5X, tumors, days, marker, fitDays, fit, withRef, showY) {
  const g = mk('g', charts, {}, name);
  const x = d => day5X + (d - 5) * 11.17;
  const y = v => 1740.3 - (v - 6) * 50.35;
  mk('rect', g, { x: frameX, y: 1501, width: frameW, height: 356, fill: 'none', stroke: '#555', 'stroke-width': 2 }, 'panel-frame');
  cXTicks.forEach(t => {
    line(g, x(t), 1857, x(t), 1868, '#555', 1.6, 'x-tick');
    label(g, x(t), 1902, String(t), 'middle', 'x-tick-label');
  });
  if (showY) cYTicks.forEach((t, i) => {
    line(g, 172, y(t), frameX, y(t), '#555', 1.6, 'y-tick');
    label(g, 156, y(t) + 9.5, cYLabels[i], 'end', 'y-tick-label');
  });
  tumors.forEach(series => {
    const pts = [];
    series.forEach((v, i) => { if (v !== null) pts.push([x(days[i]), y(v)]); });
    mk('polyline', g, { points: pts.map(p => p[0].toFixed(1) + ',' + p[1].toFixed(1)).join(' '), fill: 'none', stroke: '#8a8a8a', 'stroke-width': 2.4 }, 'tumor-line');
  });
  tumors.forEach(series => {
    series.forEach((v, i) => {
      if (v === null) return;
      const px = x(days[i]), py = y(v);
      if (marker === 'square') square(g, px, py, 5.6, '#bbb', 2.8, 'tumor-point');
      else if (marker === 'circle') circle(g, px, py, 3.2, '#bbb', 2.8, 'tumor-point');
      else mk('path', g, { d: 'M' + (px - 6.5) + ' ' + py + 'h13M' + px + ' ' + (py - 6.5) + 'v13', stroke: '#000', 'stroke-width': 2.6, fill: 'none' }, 'tumor-point');
    });
  });
  if (withRef) fitCurve(g, x, y, refFitDays, refFit, RED, 4.5, 'reference-fit-line', '31 10 10 10');
  fitCurve(g, x, y, fitDays, fit, BLUE, 5, 'group-fit-line');
}
growthPanel('chart-c-gp120', 182.4, 356.6, 221, gp120Tumors, cDays, 'square', c1FitDays, c1Fit, false, true);
growthPanel('chart-c-6e11', 547.7, 355.8, 586, clone6E11Tumors, cDays, 'circle', c2FitDays, c2Fit, true, false);
growthPanel('chart-c-17h9', 911.7, 355.8, 949.5, clone17H9Tumors, c3Days, 'plus', c3FitDays, c3Fit, true, false);

/* ---------- Forest charts ---------- */
function forestPanel(name, frameX, zeroX, means, lows, highs, overall, starSide) {
  const g = mk('g', charts, {}, name);
  const x = v => zeroX + v * 1210;
  const rowY = r => 1990 + r * 32.2;
  mk('rect', g, { x: frameX, y: 1982, width: 354.5, height: 177, fill: 'none', stroke: '#888', 'stroke-width': 1.5 }, 'forest-frame');
  line(g, frameX, 1982, frameX + 354.5, 1982, '#888', 3, 'forest-frame-top');
  line(g, frameX, 2159, frameX + 354.5, 2159, '#888', 3, 'forest-frame-bottom');
  forestTicks.forEach((t, i) => {
    if (t !== 0) line(g, x(t), 1982, x(t), 2159, '#cfcfcf', 2.2, 'forest-gridline');
    label(g, x(t) + 14, 2190, forestTickLabels[i], 'end', 'forest-tick-label', 'rotate(-45 ' + (x(t) + 14) + ' 2190)');
  });
  line(g, x(0), 1982, x(0), 2159, '#000', 2.6, 'forest-zero-line', { 'stroke-dasharray': '3 3' });
  forestRowOrder.forEach((r, i) => {
    line(g, x(lows[i]), rowY(r), x(highs[i]), rowY(r), '#000', 5, 'forest-ci-bar');
    mk('ellipse', g, { cx: x(means[i]), cy: rowY(r), rx: 8, ry: 8, fill: '#000' }, 'forest-point');
  });
  const oy = rowY(3);
  const oc = (x(overall[0]) + x(overall[2])) / 2, orx = (x(overall[2]) - x(overall[0])) / 2;
  diamond(g, oc, oy, orx - 2, '#fff', 5, 'forest-overall-effect', RED, 6);
  const sx = starSide < 0 ? x(overall[0]) - 15 : x(overall[2]) + 15;
  label(g, sx, oy + 13, '*', 'middle', 'significance-star');
}
forestPanel('chart-forest-6e11', 548, 725.5, forest6E11Mean, forest6E11Low, forest6E11High, forest6E11Overall, -1);
forestPanel('chart-forest-17h9', 919.8, 1097.8, forest17H9Mean, forest17H9Low, forest17H9High, forest17H9Overall, 1);

/* ---------- Bar charts ---------- */
function barPanel(name, axisX, yFn, ticks, labels, labelX, endX, centers, means, lows, highs, pointSets, jitterSets, catY) {
  const g = mk('g', charts, {}, name);
  const fills = ['#000', TEAL, ORANGE];
  line(g, axisX, yFn(ticks[0]), endX, yFn(ticks[0]), AXIS, 1.6, 'x-axis-line');
  yAxis(g, axisX, yFn, ticks, labels, labelX, 10);
  centers.forEach((c, i) => {
    line(g, c, yFn(ticks[0]), c, yFn(ticks[0]) + 9, AXIS, 1.6, 'x-tick');
    mk('rect', g, { x: c - 25.5, y: yFn(means[i]), width: 51, height: yFn(ticks[0]) - yFn(means[i]), fill: fills[i], stroke: '#000', 'stroke-width': 4.5 }, 'bar-' + barCategories[i]);
    line(g, c, yFn(highs[i]), c, yFn(lows[i]), '#000', 4, 'error-bar');
    line(g, c - 15, yFn(highs[i]), c + 15, yFn(highs[i]), '#000', 4, 'error-cap-high');
    line(g, c - 15, yFn(lows[i]), c + 15, yFn(lows[i]), '#000', 4, 'error-cap-low');
    pointSets[i].forEach((v, k) => circle(g, c + jitterSets[i][k] * 12, yFn(v), 7.5, '#fff', 4, 'point-' + barCategories[i]));
    label(g, c + 13, catY, barCategories[i], 'end', 'category-label', 'rotate(-45 ' + (c + 13) + ' ' + catY + ')');
  });
}
barPanel('chart-d', 1420, v => 1995.6 - v * 95.8, dYTicks, null, 1393, 1675, [1470.8, 1548, 1624.5], dMeans, dErrLow, dErrHigh, [dPointsGp120, dPoints6E11, dPoints17H9], [dJitterGp120, dJitter6E11, dJitter17H9], 2035);
barPanel('chart-e', 1859, v => 1982.6 - v * 0.04787, eYTicks, eYLabels, 1832, 2114, [1910, 1986.4, 2063], eMeans, eErrLow, eErrHigh, [ePointsGp120, ePoints6E11, ePoints17H9], [eJitterGp120, eJitter6E11, eJitter17H9], 2022);

/* significance brackets */
(function () {
  const s = shapes;
  line(s, 1443, 1541, 1635, 1541, '#000', 4, 'd-bracket-17h9');
  line(s, 1443, 1587, 1553, 1587, '#000', 3.5, 'd-bracket-6e11');
  line(s, 1513, 2090.5, 1671, 2090.5, '#000', 4.5, 'd-anti-pd-l1-bar');
  line(s, 1894, 1533, 2087, 1533, '#000', 4, 'e-bracket-17h9');
  line(s, 1893.5, 1587, 2003, 1587, '#000', 3.5, 'e-bracket-6e11');
  line(s, 1957, 2084.5, 2114, 2084.5, '#000', 4.5, 'e-anti-pd-l1-bar');
})();
</script>
</body>
</html>
